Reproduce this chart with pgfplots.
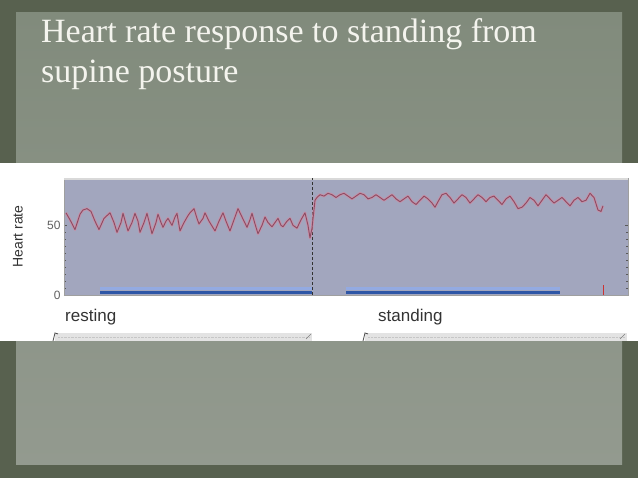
\documentclass[border=0pt]{standalone}
\usepackage{pgfplots}
\pgfplotsset{compat=1.18}
\usepackage{pgfplotstable}
\usepackage{fontspec}
\setmainfont{Liberation Serif}
\newfontfamily\arialf{Liberation Sans}
\definecolor{frame}{HTML}{58614F}
\definecolor{paneltop}{HTML}{818B7C}
\definecolor{panelbot}{HTML}{939A8F}
\definecolor{plotbg}{HTML}{A2A6BE}
\definecolor{glow}{HTML}{D8849C}
\definecolor{core}{HTML}{8A4D63}
\definecolor{barblue}{HTML}{2E56A6}
\definecolor{barlight}{HTML}{93AAE2}
\definecolor{labgray}{HTML}{333333}
\definecolor{titlewhite}{HTML}{F4F4EE}

\pgfplotstableread{
x y
2 59
6 54
11 47
16 58
19 61
23 62
27 60
31 53
35 47
40 55
46 59
50 52
53 45
57 52
59 58.6
64 46
68 52
71 58.6
74 53
76 45
80 52
83 58.6
86 50
88 44
92 52
94 58
97 52
99 48.6
102 53
104 55
108 50
111 56
113 58.6
116 46
120 52
124 57
126 59
130 62
133 55
135 51
139 55
141 59
145 53
151 46
155 53
159 59
162 53
166 46
170 54
174 62
178 56
183 48.6
186 54
188 58.6
191 51
194 44
198 50
201 56
204 52
208 49
211 52
214 55
217 50
219 49
223 53
226 55
229 50
233 48
237 54
241 59
244 50
246 41
248 48
}\resting

\pgfplotstableread{
x y
248 48
251 68
253 70
256 72
260 71
264 73
268 72
272 70
276 72
280 73
284 71
288 69
292 71
296 73
300 72
304 69
308 70
312 72
316 70
320 68
324 70
328 72
332 69
336 67
340 69
344 71
348 67
352 65
356 68
360 71
364 69
368 66
371 63
374 67
378 72
382 73
386 70
390 66
394 69
398 72
402 70
406 66
410 69
414 72
418 70
422 67
426 70
430 71
434 68
438 65
442 69
446 71
450 67
454 62
458 63
462 66
466 70
470 68
474 64
478 68
482 72
486 69
490 66
494 68
498 70
502 67
506 64
510 68
514 70
518 67
522 68
526 73
530 70
534 61
537 60
539 64
}\standing

\begin{document}
\begin{tikzpicture}
\useasboundingbox (0pt,0pt) rectangle (638pt,478pt);
% slide background
\fill[frame] (0pt,0pt) rectangle (638pt,478pt);
\shade[top color=paneltop,bottom color=panelbot] (16pt,13pt) rectangle (622pt,465pt);
% title
\node[anchor=base west,inner sep=0,text=titlewhite,font=\fontsize{34}{34}\selectfont] at (41pt,435pt) {Heart rate response to standing from};
\node[anchor=base west,inner sep=0,text=titlewhite,font=\fontsize{34}{34}\selectfont] at (41pt,395pt) {supine posture};
% white band of the inserted chart
\fill[white] (0pt,137pt) rectangle (638pt,315pt);
% scroll strips
\fill[gray!22] (55pt,137pt) rectangle (312pt,145pt);
\fill[gray!22] (365pt,137pt) rectangle (627pt,145pt);
\draw[gray!45,densely dotted] (58pt,141pt) -- (310pt,141pt);
\draw[gray!45,densely dotted] (368pt,141pt) -- (625pt,141pt);
\draw[black!70,line width=0.8pt] (53pt,137pt) -- (55pt,145pt) -- (58pt,144pt);
\draw[black!70,line width=0.8pt] (363pt,137pt) -- (365pt,145pt) -- (368pt,144pt);
\draw[gray,line width=0.6pt] (306pt,139pt) -- (311pt,144pt);
\draw[gray,line width=0.6pt] (620pt,139pt) -- (625pt,144pt);
% labels under the chart
\node[anchor=base west,inner sep=0,text=labgray,font=\arialf\fontsize{17}{17}\selectfont] at (65pt,156pt) {resting};
\node[anchor=base west,inner sep=0,text=labgray,font=\arialf\fontsize{17}{17}\selectfont] at (378pt,156pt) {standing};
\begin{axis}[
  at={(64pt,183pt)}, anchor=south west,
  scale only axis, width=564pt, height=117pt,
  xmin=0, xmax=564, ymin=0, ymax=84,
  axis background/.style={fill=plotbg},
  axis line style={draw=gray!75},
  xtick=\empty,
  ytick={0,50},
  minor y tick num=9,
  ytick pos=both,
  tick style={gray!70!black,line width=0.5pt},
  major tick length=3pt, minor tick length=2.5pt,
  yticklabel style={text=gray!75!black,font=\arialf\fontsize{12}{12}\selectfont},
  /pgf/number format/assume math mode=true,
  ylabel={Heart rate},
  every axis y label/.style={at={(rel axis cs:0,0.5)},xshift=-46pt,rotate=90,anchor=center,font=\arialf\fontsize{14}{14}\selectfont,text=labgray},
  clip=false,
]
% top highlight strip
\addplot[draw=gray!30,line width=2pt,forget plot] coordinates {(0,83) (564,83)};
% divider
\addplot[draw=gray!40!black,densely dashed,line width=0.6pt] coordinates {(248,0) (248,84)};
% event bars
\addplot[draw=barlight,line width=3pt] coordinates {(36,4.8) (248,4.8)};
\addplot[draw=barblue,line width=2.6pt] coordinates {(36,1.6) (248,1.6)};
\addplot[draw=barlight,line width=3pt] coordinates {(282,4.8) (496,4.8)};
\addplot[draw=barblue,line width=2.6pt] coordinates {(282,1.6) (496,1.6)};
% small red marker
\addplot[draw=red!60!gray,line width=0.6pt] coordinates {(539,0) (539,7)};
% heart rate traces
\addplot[draw=glow,line width=2.6pt,opacity=0.7,line join=round] table[x=x,y=y] {\resting};
\addplot[draw=core,line width=0.9pt,line join=round] table[x=x,y=y] {\resting};
\addplot[draw=glow,line width=2.6pt,opacity=0.7,line join=round] table[x=x,y=y] {\standing};
\addplot[draw=core,line width=0.9pt,line join=round] table[x=x,y=y] {\standing};
\end{axis}
\end{tikzpicture}
\end{document}
